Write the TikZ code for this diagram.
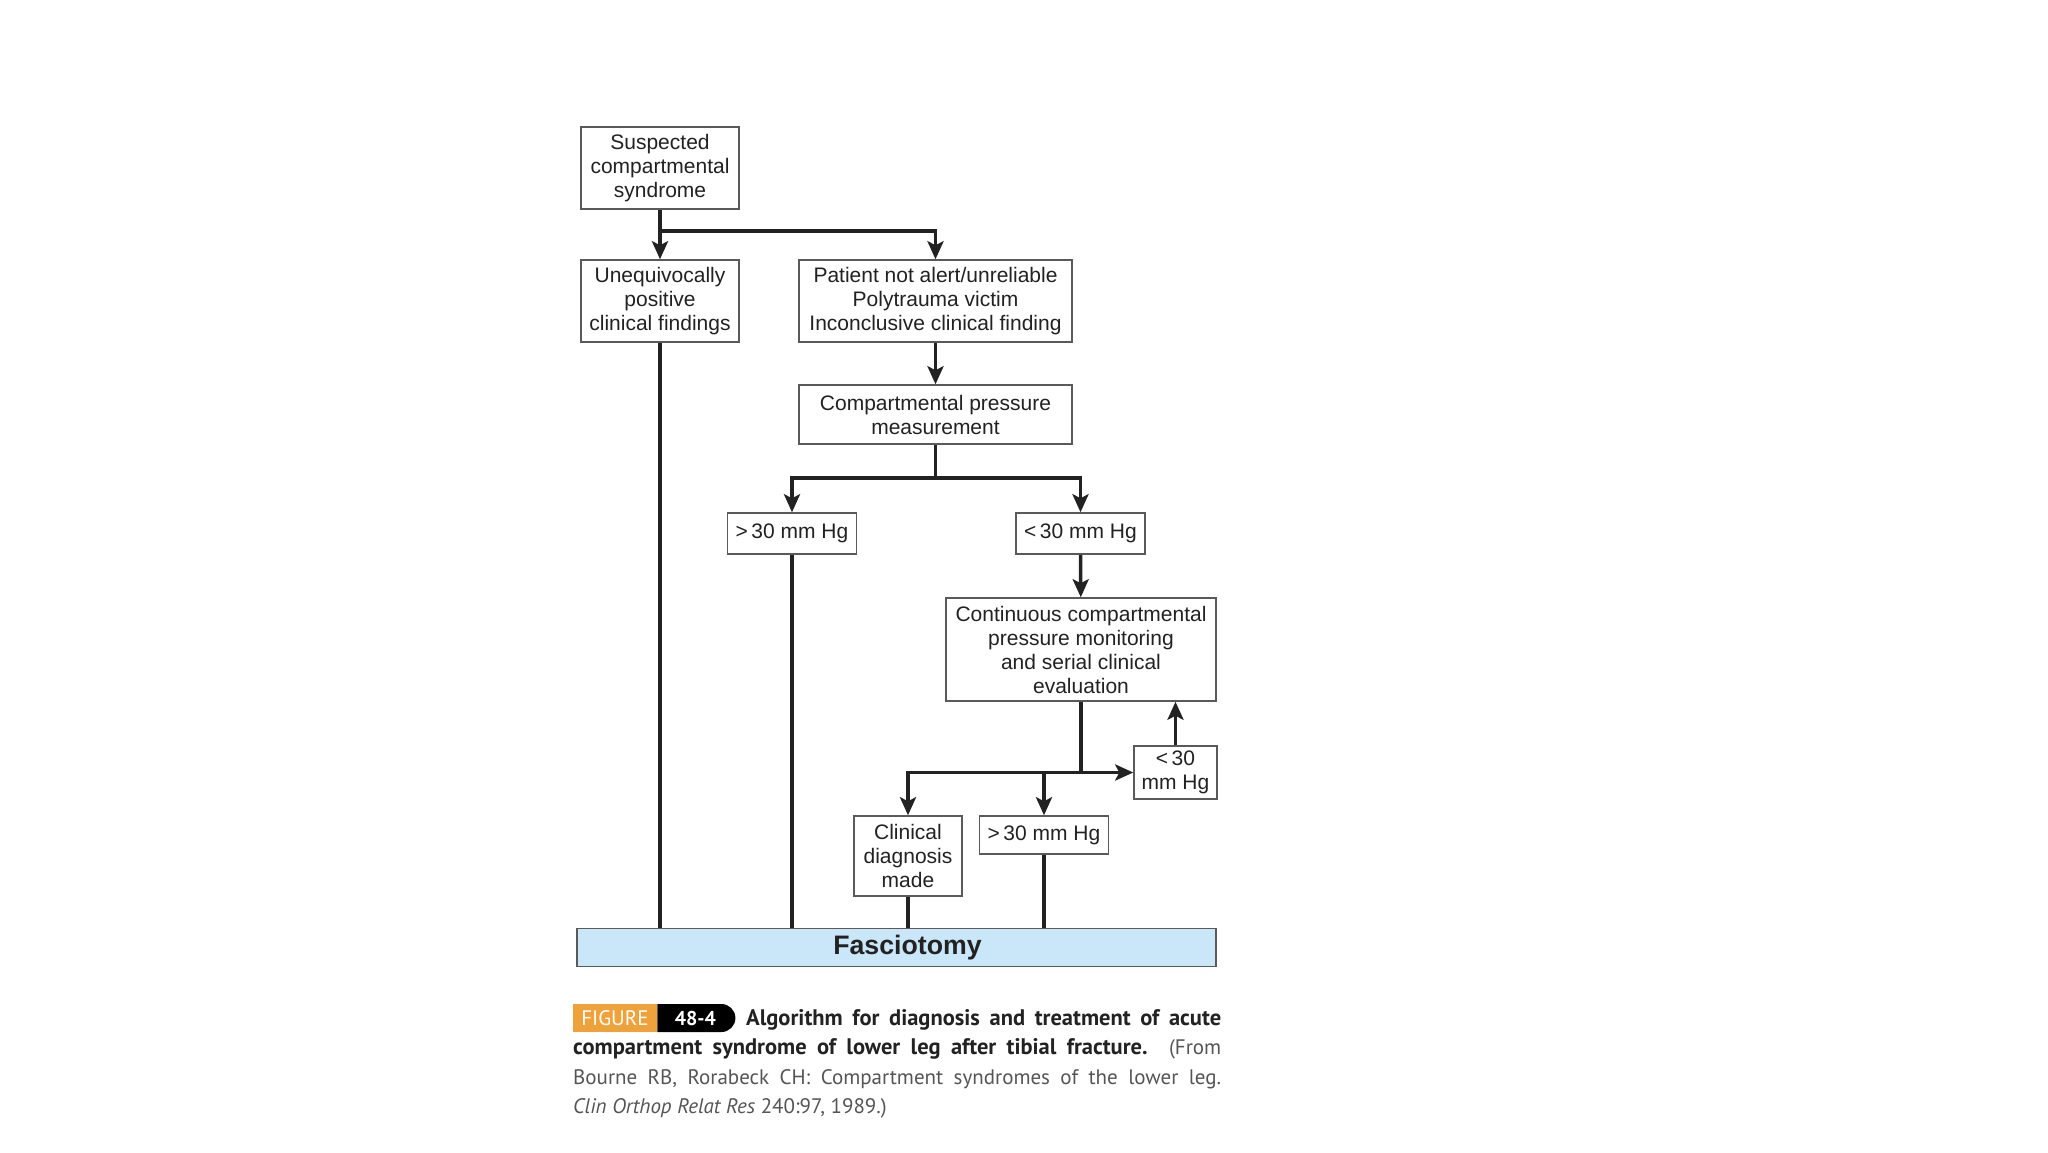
\documentclass[tikz,border=0pt]{standalone}
\usepackage{fontspec}
\setmainfont{Liberation Sans}
\newfontfamily\capfont{PT Sans}
\usetikzlibrary{arrows.meta,shapes.misc,positioning}
\definecolor{boxline}{HTML}{5A5A5A}
\definecolor{inkgray}{HTML}{222222}
\definecolor{fascblue}{HTML}{C9E7F8}
\definecolor{figorange}{HTML}{F0A23A}
\definecolor{capgray}{HTML}{555555}
\newcommand{\capbold}{\fontsize{22.5}{29}\selectfont\bfseries}
\tikzset{
  flow/.style={draw=boxline, line width=1.5pt, text=inkgray, align=center, inner sep=0pt,
    font=\fontsize{21}{24}\selectfont},
  link/.style={line width=3.5pt, draw=inkgray},
  capline/.style={anchor=base west, inner sep=0pt, font=\capfont\fontsize{21}{29}\selectfont},
  >={Stealth[length=18pt,width=16pt,inset=4pt]},
}

\begin{document}
\begin{tikzpicture}[x=1pt,y=-1pt]
		\useasboundingbox[fill=white] (0,0) rectangle (2048,1152);
		%
		\node[flow, minimum width=158pt, minimum height=82pt] (susp) at (660,168) {Suspected\\compartmental\\syndrome};
		\node[flow, minimum width=158pt, minimum height=82pt] (uneq) at (660,301) {Unequivocally\\positive\\clinical findings};
		\node[flow, minimum width=273pt, minimum height=82pt] (patient) at (935.5,301) {Patient not alert/unreliable\\Polytrauma victim\\Inconclusive clinical finding};
		\node[flow, minimum width=273pt, minimum height=59pt] (meas) at (935.5,414.5) {Compartmental pressure\\measurement};
		\node[flow, minimum width=129pt, minimum height=41pt] (gtone) at (792,533.5) {>\,30 mm Hg};
		\node[flow, minimum width=129pt, minimum height=41pt] (ltone) at (1080.5,533.5) {<\,30 mm Hg};
		\node[flow, minimum width=270pt, minimum height=103pt] (cont) at (1081,649.5) {Continuous compartmental\\pressure monitoring\\and serial clinical\\evaluation};
		\node[flow, minimum width=83pt, minimum height=53pt] (lttwo) at (1175.5,772.5) {<\,30\\mm Hg};
		\node[flow, minimum width=108pt, minimum height=80pt] (diag) at (908,856) {Clinical\\diagnosis\\made};
		\node[flow, minimum width=129pt, minimum height=38pt] (gttwo) at (1044,835) {>\,30 mm Hg};
		\node[flow, fill=fascblue, minimum width=639pt, minimum height=38pt,
			font=\fontsize{26.7}{28}\selectfont\bfseries] (fasc) at (896.5,947.5) {\hspace*{22pt}Fasciotomy};
		%
		\draw[link,->] (susp) -- (uneq);
		\draw[link,->] (susp.south) -- ++(0,21) -| (patient);
		\draw[link,->] (patient) -- (meas);
		\draw[link,->] (meas.south) -- ++(0,33) -| (gtone);
		\draw[link,->] (meas.south) -- ++(0,33) -| (ltone);
		\draw[link,->] (ltone) -- (cont);
		\coordinate (csplit) at (cont.south |- lttwo.west);
		\draw[link,->] (cont.south) -- (csplit) -- (lttwo.west);
		\draw[link,->] (csplit) -| (diag);
		\draw[link,->] (csplit) -| (gttwo);
		\draw[link,->] (lttwo.north) -- (lttwo.north |- cont.south);
		%
		\draw[link] (uneq.south) -- (uneq.south |- fasc.north);
		\draw[link] (gtone.south) -- (gtone.south |- fasc.north);
		\draw[link] (diag.south) -- (diag.south |- fasc.north);
		\draw[link] (gttwo.south) -- (gttwo.south |- fasc.north);
		%
		\node[fill=figorange, text=white, inner sep=0pt, minimum width=84pt, minimum height=28pt,
			font=\capfont\fontsize{21}{22}\selectfont] (figtag) at (615,1018) {FIGURE};
		\node[rounded rectangle, rounded rectangle left arc=none, fill=black, text=white, inner sep=0pt,
			minimum width=78pt, minimum height=28pt, font=\capfont\bfseries\fontsize{20}{22}\selectfont,
			right=0pt of figtag] (numtag) {48-4\hspace{14pt}};
		\node[capline, text=inkgray] (capone) at (746,1025) {\makebox[475pt][s]{\capbold Algorithm for diagnosis and treatment of acute}};
		\node[capline, text=inkgray] (captwo) at (573,1054) {\makebox[648pt][s]{{\capbold compartment syndrome of lower leg after tibial fracture.} \color{capgray}(From}};
		\node[capline, text=capgray] (capthree) at (573,1084) {\makebox[648pt][s]{Bourne RB, Rorabeck CH: Compartment syndromes of the lower leg.}};
		\node[capline, text=capgray] (capfour) at (573,1113) {\textit{Clin Orthop Relat Res} 240:97, 1989.)};
	\end{tikzpicture}
\end{document}
